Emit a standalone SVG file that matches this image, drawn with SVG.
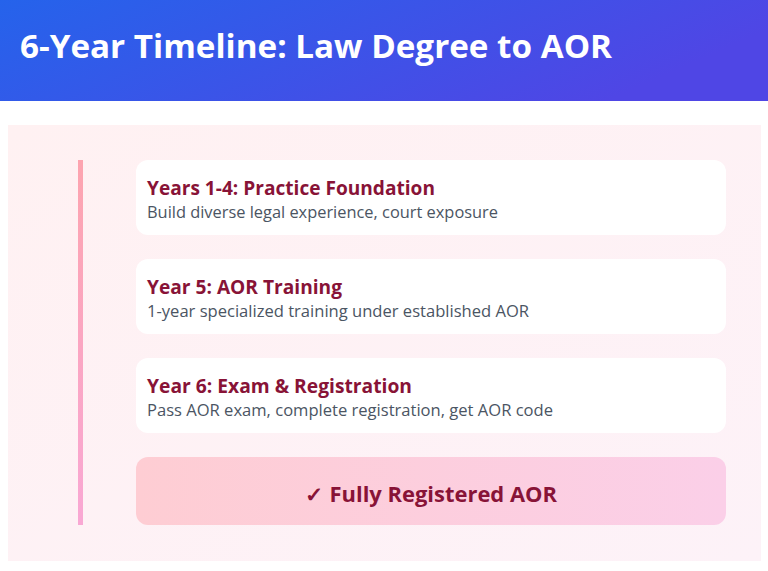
<svg xmlns="http://www.w3.org/2000/svg" width="768" height="571" viewBox="0 0 768 571">
<defs>
<linearGradient id="hdr" x1="0" y1="0" x2="1" y2="0.3"><stop offset="0" stop-color="#2563eb"/><stop offset="1" stop-color="#4f46e5"/></linearGradient>
<linearGradient id="bg" x1="0" y1="0" x2="1" y2="1"><stop offset="0" stop-color="#fff1f2"/><stop offset="1" stop-color="#fdf2f8"/></linearGradient>
<linearGradient id="line" x1="0" y1="0" x2="0" y2="1"><stop offset="0" stop-color="#fda4af"/><stop offset="1" stop-color="#f9a8d4"/></linearGradient>
<linearGradient id="fin" x1="0" y1="0" x2="1" y2="0"><stop offset="0" stop-color="#fecdd3"/><stop offset="1" stop-color="#fbcfe8"/></linearGradient>
<style>
.card{fill:#ffffff}
.t{font-family:"Open Sans","Noto Sans",sans-serif;font-weight:700;font-size:19px;fill:#881337}
.s{font-family:"Open Sans","Noto Sans",sans-serif;font-size:16px;fill:#4b5563}
.h{font-family:"Open Sans","Noto Sans",sans-serif;font-weight:700;font-size:33px;fill:#ffffff}
</style>
</defs>
<rect x="0" y="0" width="768" height="571" fill="#ffffff"/>
<rect x="0" y="0" width="768" height="101" fill="url(#hdr)"/>
<text class="h" x="20" y="58" textLength="592" lengthAdjust="spacingAndGlyphs">6-Year Timeline: Law Degree to AOR</text>
<rect x="8" y="125" width="753" height="436" fill="url(#bg)"/>
<g id="connectors">
<rect x="78" y="160" width="5" height="365" fill="url(#line)"/>
</g>
<g id="node1">
<rect class="card" x="136" y="160" width="590" height="75" rx="12"/>
<text class="t" x="147" y="195" textLength="288" lengthAdjust="spacingAndGlyphs">Years 1-4: Practice Foundation</text>
<text class="s" x="147" y="218" textLength="351" lengthAdjust="spacingAndGlyphs">Build diverse legal experience, court exposure</text>
</g>
<g id="node2">
<rect class="card" x="136" y="259" width="590" height="75" rx="12"/>
<text class="t" x="147" y="294" textLength="195" lengthAdjust="spacingAndGlyphs">Year 5: AOR Training</text>
<text class="s" x="147" y="317" textLength="382" lengthAdjust="spacingAndGlyphs">1-year specialized training under established AOR</text>
</g>
<g id="node3">
<rect class="card" x="136" y="358" width="590" height="75" rx="12"/>
<text class="t" x="147" y="393" textLength="265" lengthAdjust="spacingAndGlyphs">Year 6: Exam &amp; Registration</text>
<text class="s" x="147" y="416" textLength="406" lengthAdjust="spacingAndGlyphs">Pass AOR exam, complete registration, get AOR code</text>
</g>
<g id="node4">
<rect x="136" y="457" width="590" height="68" rx="12" fill="url(#fin)"/>
<text class="t" x="305" y="502" textLength="252" lengthAdjust="spacingAndGlyphs" style="font-size:21px">✓ Fully Registered AOR</text>
</g>
</svg>
